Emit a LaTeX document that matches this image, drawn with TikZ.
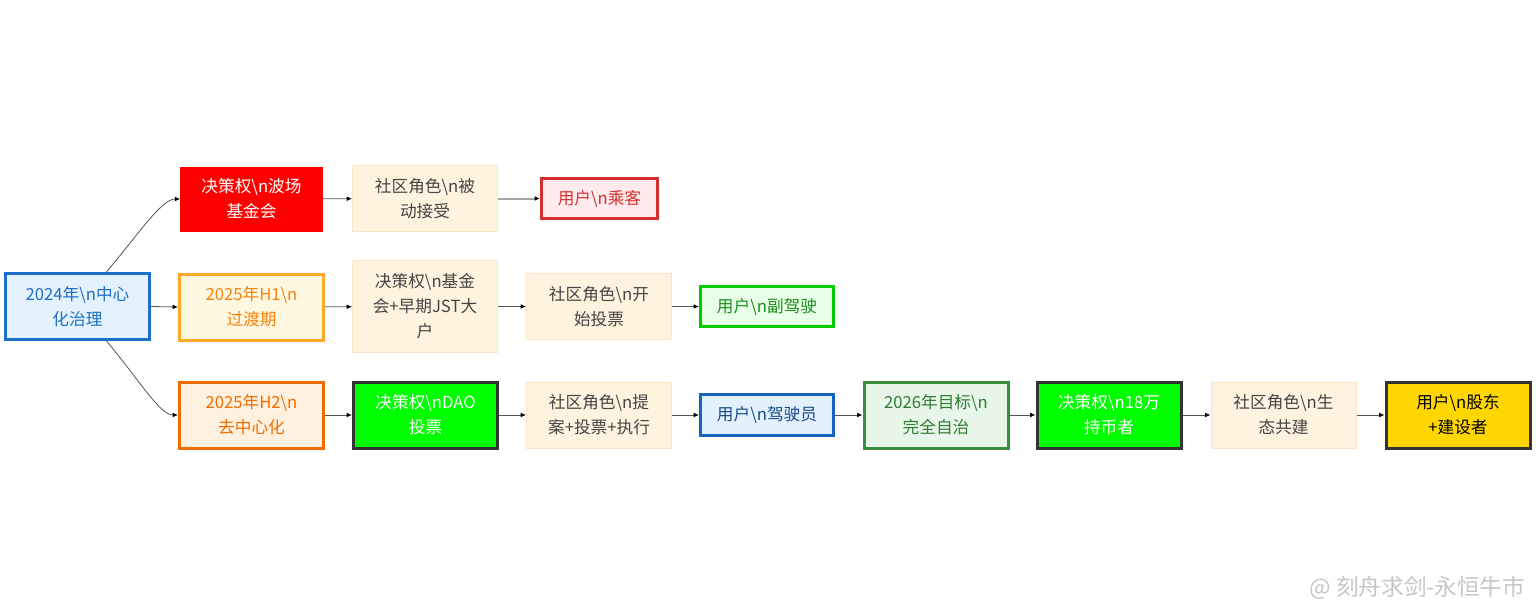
\documentclass[tikz,border=0pt]{standalone}
\usepackage{fontspec}
\setmainfont{Noto Sans CJK SC}
\usetikzlibrary{arrows.meta}

\definecolor{rootfill}{HTML}{E3F2FD}
\definecolor{rootline}{HTML}{1E6FC8}
\definecolor{cream}{HTML}{FEF3DE}
\definecolor{creamline}{HTML}{FBE6C4}
\definecolor{rolefont}{HTML}{444444}
\definecolor{h1fill}{HTML}{FFF8E1}
\definecolor{h1line}{HTML}{FFA726}
\definecolor{h1font}{HTML}{F5820D}
\definecolor{h2fill}{HTML}{FFF1E0}
\definecolor{h2line}{HTML}{EF6C00}
\definecolor{ridefill}{HTML}{FFEBEE}
\definecolor{rideline}{HTML}{D32F2F}
\definecolor{copfill}{HTML}{E8FFE8}
\definecolor{copline}{HTML}{00CC00}
\definecolor{copfont}{HTML}{1B8E1B}
\definecolor{drvfill}{HTML}{E3F0FD}
\definecolor{drvline}{HTML}{1565C0}
\definecolor{drvfont}{HTML}{1A4A8A}
\definecolor{goalfill}{HTML}{E8F5E9}
\definecolor{goalline}{HTML}{388E3C}
\definecolor{goalfont}{HTML}{2E7D32}
\definecolor{votegreen}{HTML}{00FF00}
\definecolor{darkline}{HTML}{333333}
\definecolor{gold}{HTML}{FFD600}
\definecolor{linkgray}{HTML}{555555}

\newcommand{\bsn}{\textbackslash n}

\begin{document}
\begin{tikzpicture}[
    x=0.75pt, y=-0.75pt,
    box/.style={rectangle, draw, line width=2.25pt, align=center, inner sep=1pt,
      minimum width=108pt, minimum height=49.5pt,
      font=\fontsize{12.5}{18.75}\selectfont},
    role/.style={box, fill=cream, draw=creamline, line width=0.75pt,
      minimum width=108.75pt, text=rolefont},
    user/.style={box, minimum height=30pt},
    power/.style={box, fill=votegreen, draw=darkline, text=white},
    link/.style={draw=linkgray, line width=0.6pt, -{Latex[black, length=4pt, width=3.5pt]}},
  ]
  \useasboundingbox (0,0) rectangle (1536,614);

  %% --- Start ---
  \node[box, fill=rootfill, draw=rootline, text=rootline] (root) at (77.5,306.5)
    {2024年\bsn 中心\\化治理};

  %% --- Row 1: foundation ---
  \node[box, fill=red, draw=red, line width=0pt, minimum width=107pt, minimum height=48pt,
    text=white] (found) at (251.5,199) {决策权\bsn 波场\\基金会};
  \node[role] (passive) at (425,198.5) {社区角色\bsn 被\\动接受};
  \node[user, fill=ridefill, draw=rideline, text=rideline, minimum width=87pt]
    (rider) at (599.5,198.5) {用户\bsn 乘客};

  %% --- Row 2: transition ---
  \node[box, fill=h1fill, draw=h1line, text=h1font] (h1) at (251.5,307)
    {2025年H1\bsn\\过渡期};
  \node[role, minimum height=69pt] (early) at (425,306.5)
    {决策权\bsn 基金\\会+早期JST大\\户};
  \node[role] (start) at (599,306.5) {社区角色\bsn 开\\始投票};
  \node[user, fill=copfill, draw=copline, text=copfont, minimum width=99.75pt]
    (copilot) at (767,306.5) {用户\bsn 副驾驶};

  %% --- Row 3: decentralised ---
  \node[box, fill=h2fill, draw=h2line, text=h2line] (h2) at (251.5,415)
    {2025年H2\bsn\\去中心化};
  \node[power] (dao) at (425.5,415) {决策权\bsn DAO\\投票};
  \node[role] (propose) at (599,415) {社区角色\bsn 提\\案+投票+执行};
  \node[user, fill=drvfill, draw=drvline, text=drvfont, minimum width=99.75pt,
    minimum height=31pt] (driver) at (767,415) {用户\bsn 驾驶员};
  \node[box, fill=goalfill, draw=goalline, text=goalfont] (goal) at (936,415)
    {2026年目标\bsn\\完全自治};
  \node[power] (holders) at (1109,415) {决策权\bsn 18万\\持币者};
  \node[role] (eco) at (1283.5,415) {社区角色\bsn 生\\态共建};
  \node[box, fill=gold, draw=darkline, text=black] (owner) at (1458,415)
    {用户\bsn 股东\\+建设者};

  % watermark
  \node[text=gray!45, font=\fontsize{17}{20}\selectfont, anchor=east] (mark) at (1530,588)
    {@ 刻舟求剑-永恒牛市};

  %% --- Edges ---
  \draw[link] (root.50) to[out=50, in=180, out looseness=1.3, in looseness=0.45] (found.west);
  \draw[link] (root.east) -- (h1.west);
  \draw[link] (root.-50) to[out=-50, in=180, out looseness=1.3, in looseness=0.45] (h2.west);

  \draw[link] (found) -- (passive);
  \draw[link, draw=gray!70, line width=1.5pt] (passive) -- (rider);

  \draw[link] (h1) -- (early);
  \draw[link] (early) -- (start);
  \draw[link] (start) -- (copilot);

  \draw[link] (h2) -- (dao);
  \draw[link] (dao) -- (propose);
  \draw[link] (propose) -- (driver);
  \draw[link] (driver) -- (goal);
  \draw[link] (goal) -- (holders);
  \draw[link] (holders) -- (eco);
  \draw[link] (eco) -- (owner);
\end{tikzpicture}
\end{document}
